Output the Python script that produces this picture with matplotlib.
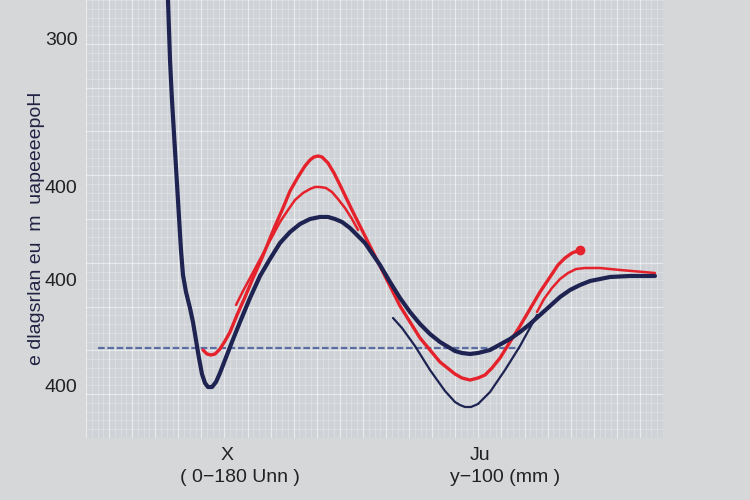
import matplotlib
matplotlib.use("Agg")
import matplotlib.pyplot as plt
from matplotlib.ticker import FixedLocator, FixedFormatter, MultipleLocator

# ---- data ----
navy_x = [14.21, 14.56, 14.90, 15.42, 15.94, 16.46, 16.81, 17.33, 18.02, 18.54, 19.06, 19.58,
          20.10, 20.62, 21.14, 21.84, 22.53, 23.22, 24.09, 25.30, 26.69, 28.42, 30.16, 31.89,
          33.62, 35.36, 37.09, 38.82, 40.55, 41.94, 43.15, 44.37, 45.75, 48.35, 50.95, 52.69,
          54.42, 56.15, 57.89, 59.62, 61.35, 63.95, 65.16, 66.55, 67.94, 70.02, 73.48, 75.22,
          76.95, 78.68, 80.42, 82.15, 83.88, 85.62, 87.35, 89.08, 90.81, 94.28, 98.61]
navy_y = [100.0, 86.30, 77.17, 65.75, 54.34, 42.92, 37.21, 33.33, 29.68, 26.48, 22.37, 18.26,
          14.61, 12.56, 11.64, 11.64, 12.79, 14.84, 17.81, 21.92, 26.48, 31.96, 36.99, 40.87,
          44.52, 47.03, 48.86, 50.00, 50.46, 50.46, 50.00, 49.32, 47.95, 44.52, 39.50, 35.62,
          31.96, 28.77, 26.03, 23.74, 21.92, 19.86, 19.41, 19.18, 19.41, 20.09, 22.60, 24.20,
          26.03, 28.08, 30.14, 32.19, 33.79, 34.93, 35.84, 36.30, 36.76, 36.99, 36.99]

redA_x = [20.28, 20.97, 21.66, 22.36, 23.22, 24.09, 24.96, 26.17, 27.56, 28.94, 30.50, 32.76,
          34.14, 35.36, 36.74, 37.95, 38.82, 39.51, 40.21, 40.90, 41.94, 42.98, 44.02, 46.10,
          48.35, 50.95, 54.42, 57.89, 61.35, 63.95, 65.16, 66.55, 67.94, 69.15, 70.36, 71.75,
          73.48, 75.22, 76.95, 78.68, 80.42, 81.80, 83.02, 84.23, 85.62]
redA_y = [20.09, 19.18, 18.95, 19.18, 20.32, 22.15, 24.20, 28.08, 32.19, 36.53, 41.10, 48.40,
          52.51, 56.39, 59.59, 62.10, 63.47, 64.16, 64.38, 64.16, 62.79, 60.50, 57.76, 52.05,
          46.12, 39.27, 30.14, 22.83, 17.35, 14.61, 13.70, 13.24, 13.70, 14.38, 15.98, 18.26,
          21.92, 25.57, 29.45, 33.33, 36.76, 39.50, 41.10, 42.24, 42.92]

redB_left_x = [26.00, 27.21, 28.42, 31.02, 33.62, 35.01, 36.22, 37.61, 38.82, 39.69, 40.55,
               41.59, 42.63, 43.67, 44.89, 46.10, 47.14]
redB_left_y = [30.37, 33.56, 36.53, 42.92, 49.32, 52.05, 54.34, 55.94, 56.85, 57.31, 57.31,
               57.08, 56.16, 54.57, 52.51, 50.00, 47.49]

redB_right_x = [78.16, 79.38, 80.76, 82.15, 83.54, 84.92, 86.48, 89.08, 92.55, 98.61]
redB_right_y = [28.77, 31.74, 34.25, 36.30, 37.67, 38.58, 38.81, 38.81, 38.36, 37.67]

thin_x = [53.21, 54.77, 57.02, 59.62, 62.22, 63.95, 64.82, 65.68, 66.72, 67.94, 70.02, 72.62,
          75.22, 78.16]
thin_y = [27.40, 25.11, 21.00, 15.53, 10.73, 8.22, 7.53, 7.08, 7.08, 7.76, 10.50, 15.53,
          21.00, 28.08]

ref_level = 20.5
ref_x = [2.1, 75.2]

ytick_pos = [91.3, 57.5, 36.1, 12.1]
ytick_labels = ["300", "400", "400", "400"]

xlabel_top = ["X", "Ju"]
xlabel_bottom = ["( 0\u2212180 Unn )", "y\u2212100 (mm )"]
ylabel_text = "e dlagsrlan eu  m  uapeeeepoH"

# ---- styling ----
plt.rcParams['font.family'] = ['Liberation Sans', 'DejaVu Sans']
NAVY = "#1e2352"
RED = "#e5222b"
FIGBG = "#d5d7d9"
AXBG = "#cfd2d6"

fig = plt.figure(figsize=(7.5, 5.0), dpi=100, facecolor=FIGBG)
ax = fig.add_axes([86/750, 62/500, 577/750, 438/500], facecolor=AXBG)

ax.set_xlim(0, 100)
ax.set_ylim(0, 100)

ax.xaxis.set_major_locator(MultipleLocator(4))
ax.xaxis.set_minor_locator(MultipleLocator(1))
ax.yaxis.set_minor_locator(MultipleLocator(2))
ax.grid(which='minor', axis='both', color='white', lw=0.6, alpha=0.28)
ax.grid(which='major', axis='x', color='white', lw=0.9, alpha=0.55)
for yy in range(10, 100, 10):
    ax.axhline(yy, color='white', lw=0.9, alpha=0.4, zorder=0.5)
ax.set_axisbelow(True)

ax.yaxis.set_major_locator(FixedLocator(ytick_pos))
ax.yaxis.set_major_formatter(FixedFormatter(ytick_labels))
ax.tick_params(axis='y', length=0, labelsize=14, labelcolor='#222222', pad=6)
ax.tick_params(axis='x', length=0, labelbottom=False)
ax.tick_params(which='minor', length=0)
for s in ax.spines.values():
    s.set_visible(False)

# reference dashed line
ax.plot(ref_x, [ref_level, ref_level], color="#5b6ea3", lw=1.6, ls=(0, (3, 1.2)), zorder=2)

# curves
kw = dict(solid_capstyle='round', solid_joinstyle='round')
ax.plot(redB_left_x, redB_left_y, color=RED, lw=1.8, zorder=3, **kw)
ax.plot(redB_right_x, redB_right_y, color=RED, lw=1.8, zorder=3, **kw)
ax.plot(thin_x, thin_y, color=NAVY, lw=1.6, zorder=3, **kw)
ax.plot(redA_x, redA_y, color=RED, lw=2.4, zorder=4, **kw)
ax.plot(navy_x, navy_y, color=NAVY, lw=3.0, zorder=5, **kw)
ax.plot([redA_x[-1]], [redA_y[-1]], 'o', color=RED, ms=6, zorder=4)

# axis labels (free text)
fig.text(227/750, 1 - 455/500, xlabel_top[0], ha='center', va='center', fontsize=14, color='#222222')
fig.text(240/750, 1 - 478/500, xlabel_bottom[0], ha='center', va='center', fontsize=14, color='#222222')
fig.text(480/750, 1 - 455/500, xlabel_top[1], ha='center', va='center', fontsize=14, color='#222222')
fig.text(505/750, 1 - 478/500, xlabel_bottom[1], ha='center', va='center', fontsize=14, color='#222222')
fig.text(37/750, 1 - 228/500, ylabel_text, rotation=90, ha='center', va='center',
         fontsize=14, color='#222244')

fig.savefig("out.png", dpi=100, facecolor=FIGBG)
